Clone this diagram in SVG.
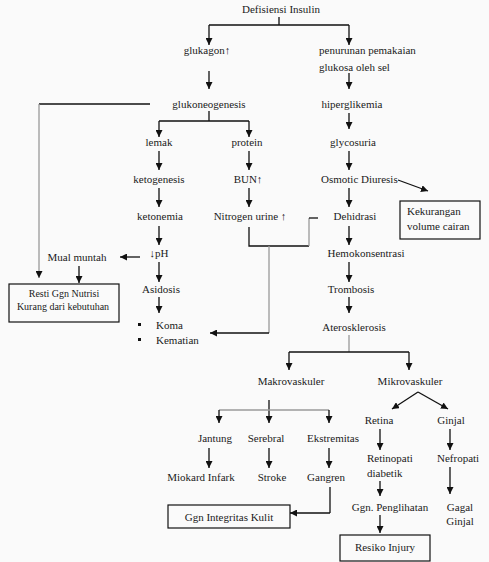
<svg xmlns="http://www.w3.org/2000/svg" width="489" height="562" viewBox="0 0 489 562">
<style>
text{font-family:"Liberation Serif","Times New Roman",serif;font-size:11px;fill:#1a1a1a}
.c{text-anchor:middle}
.s{font-size:10px}
.box{fill:none;stroke:#111;stroke-width:1.2}
.ln{fill:none;stroke:#111;stroke-width:1.3}
.g{stroke:#9a9a9a}
.ar{marker-end:url(#ah)}
</style>
<defs>
<marker id="ah" markerUnits="userSpaceOnUse" markerWidth="7" markerHeight="7" refX="7" refY="3.5" orient="auto">
<path d="M0,0 L7,3.5 L0,7 z" fill="#111"/>
</marker>
</defs>
<rect width="489" height="562" fill="#fafafa"/>

<g id="connectors">
<path class="ln" d="M279,17 V25 M209,25 H349"/>
<path class="ln ar" d="M209,25 V45"/>
<path class="ln ar" d="M349,25 V45"/>
<path class="ln ar" d="M209,71 V89"/>
<path class="ln ar" d="M349,73 V89"/>
<path class="ln" d="M150,104 H39"/>
<path class="ln g ar" d="M39,104 V278"/>
<path class="ln" d="M209,111 V121 M159,121 H249"/>
<path class="ln ar" d="M159,121 V137"/>
<path class="ln ar" d="M249,121 V137"/>
<path class="ln ar" d="M349,113 V129"/>
<path class="ln ar" d="M159,151 V170"/>
<path class="ln ar" d="M249,151 V170"/>
<path class="ln ar" d="M349,151 V170"/>
<path class="ln ar" d="M398,180 L428,191"/>
<path class="ln ar" d="M159,188 V207"/>
<path class="ln ar" d="M249,188 V207"/>
<path class="ln ar" d="M349,188 V207"/>
<path class="ln ar" d="M159,226 V245"/>
<path class="ln ar" d="M349,226 V245"/>
<path class="ln" d="M249,227 V246 H309"/>
<path class="ln g" d="M309,246 V218"/>
<path class="ln" d="M309,218 H318"/>
<path class="ln g" d="M269,246 V333"/>
<path class="ln ar" d="M269,333 H210"/>
<path class="ln ar" d="M140,257 H120"/>
<path class="ln ar" d="M79,266 V283"/>
<path class="ln ar" d="M159,262 V282"/>
<path class="ln ar" d="M159,297 V313"/>
<path class="ln ar" d="M349,262 V282"/>
<path class="ln ar" d="M349,297 V313"/>
<path class="ln g" d="M349,335 V352"/>
<path class="ln" d="M289,352 H409"/>
<path class="ln ar" d="M289,352 V370"/>
<path class="ln ar" d="M409,352 V370"/>
<path class="ln ar" d="M269,400 V423"/>
<path class="ln g" d="M219,410 H329"/>
<path class="ln ar" d="M219,410 V423"/>
<path class="ln ar" d="M329,410 V423"/>
<path class="ln ar" d="M418,392 L392,409"/>
<path class="ln ar" d="M418,392 L448,409"/>
<path class="ln ar" d="M209,448 V468"/>
<path class="ln ar" d="M269,448 V468"/>
<path class="ln ar" d="M329,448 V468"/>
<path class="ln ar" d="M380,429 V450"/>
<path class="ln ar" d="M450,429 V450"/>
<path class="ln" d="M330,487 V513"/>
<path class="ln ar" d="M330,513 H290"/>
<path class="ln ar" d="M380,481 V496"/>
<path class="ln ar" d="M380,515 V533"/>
<path class="ln ar" d="M450,467 V494"/>
</g>

<g id="defisiensi"><text class="c" x="281" y="13">Defisiensi Insulin</text></g>
<g id="glukagon"><text class="c" x="207" y="54">glukagon↑</text></g>
<g id="penurunan"><text x="319" y="54">penurunan pemakaian</text><text x="319" y="71">glukosa oleh sel</text></g>
<g id="glukoneogenesis"><text class="c" x="209" y="108">glukoneogenesis</text></g>
<g id="hiperglikemia"><text class="c" x="352" y="108">hiperglikemia</text></g>
<g id="lemak"><text class="c" x="159" y="146">lemak</text></g>
<g id="protein"><text class="c" x="247" y="146">protein</text></g>
<g id="glycosuria"><text class="c" x="353" y="146">glycosuria</text></g>
<g id="ketogenesis"><text class="c" x="159" y="183">ketogenesis</text></g>
<g id="bun"><text class="c" x="248" y="183">BUN↑</text></g>
<g id="osmotic"><text x="321" y="183">Osmotic Diuresis</text></g>
<g id="ketonemia"><text class="c" x="160" y="220">ketonemia</text></g>
<g id="nitrogen"><text class="c" x="250" y="220">Nitrogen urine ↑</text></g>
<g id="dehidrasi"><text class="c" x="355" y="220">Dehidrasi</text></g>
<g id="kekurangan"><rect class="box" x="400" y="201" width="80" height="38"/><text x="407" y="215">Kekurangan</text><text x="407" y="230">volume cairan</text></g>
<g id="ph"><text class="c" x="159" y="257">↓pH</text></g>
<g id="hemokonsentrasi"><text class="c" x="366" y="257">Hemokonsentrasi</text></g>
<g id="mual"><text class="c" x="77" y="261">Mual muntah</text></g>
<g id="resti"><rect class="box" x="9" y="284" width="110" height="38"/><text class="c s" x="64" y="297">Resti Ggn Nutrisi</text><text class="c s" x="63" y="310">Kurang dari kebutuhan</text></g>
<g id="asidosis"><text class="c" x="161" y="293">Asidosis</text></g>
<g id="trombosis"><text class="c" x="351" y="293">Trombosis</text></g>
<g id="koma"><rect x="138" y="323" width="3" height="3" fill="#111"/><text x="156" y="329">Koma</text><rect x="138" y="338" width="3" height="3" fill="#111"/><text x="156" y="344">Kematian</text></g>
<g id="aterosklerosis"><text class="c" x="354" y="331">Aterosklerosis</text></g>
<g id="makrovaskuler"><text class="c" x="291" y="385">Makrovaskuler</text></g>
<g id="mikrovaskuler"><text class="c" x="410" y="385">Mikrovaskuler</text></g>
<g id="jantung"><text class="c" x="215" y="442">Jantung</text></g>
<g id="serebral"><text class="c" x="266" y="442">Serebral</text></g>
<g id="ekstremitas"><text class="c" x="333" y="442">Ekstremitas</text></g>
<g id="retina"><text class="c" x="379" y="424">Retina</text></g>
<g id="ginjal"><text class="c" x="451" y="424">Ginjal</text></g>
<g id="retinopati"><text x="367" y="462">Retinopati</text><text x="367" y="477">diabetik</text></g>
<g id="nefropati"><text x="437" y="462">Nefropati</text></g>
<g id="miokard"><text class="c" x="201" y="481">Miokard Infark</text></g>
<g id="stroke"><text class="c" x="272" y="481">Stroke</text></g>
<g id="gangren"><text class="c" x="326" y="481">Gangren</text></g>
<g id="integritas"><rect class="box" x="168" y="505" width="122" height="23"/><text class="c" x="229" y="521">Ggn Integritas Kulit</text></g>
<g id="penglihatan"><text class="c" x="390" y="511">Ggn. Penglihatan</text></g>
<g id="gagal"><text class="c" x="460" y="511">Gagal</text><text class="c" x="460" y="525">Ginjal</text></g>
<g id="resiko"><rect class="box" x="340" y="535" width="90" height="26"/><text class="c" x="385" y="551">Resiko Injury</text></g>
</svg>
